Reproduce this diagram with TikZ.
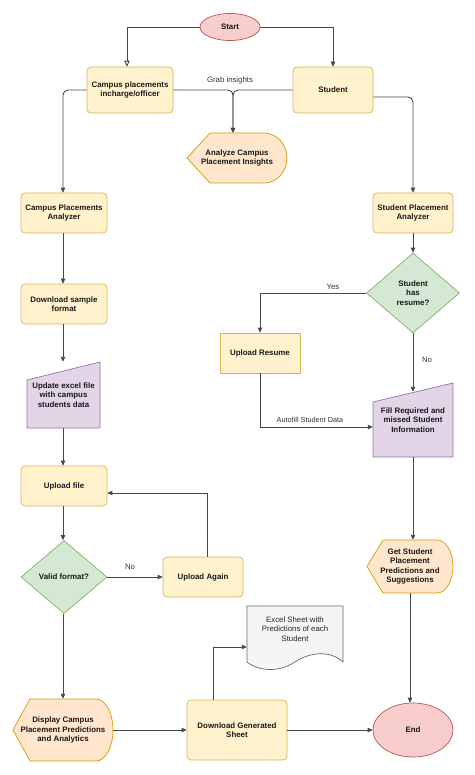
\documentclass[tikz,border=0pt]{standalone}
\usepackage{fontspec}
\setmainfont{Liberation Sans}
\usetikzlibrary{shapes.geometric,arrows.meta,calc}
\definecolor{yfill}{HTML}{FFF2CC}\definecolor{ydraw}{HTML}{D6B656}
\definecolor{pfill}{HTML}{F8CECC}\definecolor{pdraw}{HTML}{B85450}
\definecolor{gfill}{HTML}{D5E8D4}\definecolor{gdraw}{HTML}{82B366}
\definecolor{vfill}{HTML}{E1D5E7}\definecolor{vdraw}{HTML}{9673A6}
\definecolor{ofill}{HTML}{FFE6CC}\definecolor{odraw}{HTML}{D79B00}
\definecolor{dfill}{HTML}{F5F5F5}\definecolor{ddraw}{HTML}{666666}
\definecolor{lab}{HTML}{333333}
\newcommand\dispath[5]{% cx cy w h dx
  \filldraw[fill=ofill,draw=odraw,line width=0.7pt]
   ({#1-#3/2},#2) -- ({#1-#3/2+#5},{#2-#4/2}) -- ({#1+#3/2-#5},{#2-#4/2})
   .. controls ({#1+#3/2-#5+0.5523*#5},{#2-#4/2}) and ({#1+#3/2},{#2-0.5523*#4/2}) .. ({#1+#3/2},#2)
   .. controls ({#1+#3/2},{#2+0.5523*#4/2}) and ({#1+#3/2-#5+0.5523*#5},{#2+#4/2}) .. ({#1+#3/2-#5},{#2+#4/2})
   -- ({#1-#3/2+#5},{#2+#4/2}) -- cycle;}
\newcommand\manpath[5]{% x0 x1 ytl ytr ybot
  \filldraw[fill=vfill,draw=vdraw,line width=0.7pt]
   (#1,#3) -- (#2,#4) -- (#2,#5) -- (#1,#5) -- cycle;}
\tikzset{
  txt/.style={font=\fontsize{7.9}{9.3}\selectfont\bfseries,align=center,text=black!90,inner sep=0pt},
  procbox/.style={txt,rectangle,rounded corners=4pt,draw=ydraw,fill=yfill,line width=0.7pt},
  sqbox/.style={txt,rectangle,draw=ydraw,fill=yfill,line width=0.7pt},
  term/.style={txt,ellipse,draw=pdraw,fill=pfill,line width=0.7pt},
  decision/.style={txt,diamond,draw=gdraw,fill=gfill,line width=0.7pt},
  ghost/.style={txt},
  conn/.style={draw=black!72,line width=0.9pt,-{Triangle[length=5pt,width=4.5pt]}},
  openconn/.style={draw=black!72,line width=0.9pt,-{Triangle[open,length=6pt,width=5.5pt]}},
  elabel/.style={font=\fontsize{7.8}{9.3}\selectfont,text=lab,inner sep=0pt},
}
\begin{document}
\begin{tikzpicture}[x=1pt,y=-1pt]
\useasboundingbox (0,0) rectangle (474,775);
% shapes drawn directly
\dispath{237}{158}{100}{50}{23}
\dispath{410}{566.5}{86}{53}{16}
\dispath{63}{730}{100}{62}{17}
\manpath{27}{100}{380}{362}{428}
\manpath{373}{453}{402}{383}{457}
\filldraw[fill=dfill,draw=ddraw,line width=0.7pt]
  (247,606) -- (343,606) -- (343,662)
  .. controls (330,650) and (310,652) .. (295,662)
  .. controls (280,672) and (260,672) .. (247,662) -- cycle;
% nodes
\node[term,minimum width=60pt,minimum height=27pt] (start) at (230,27) {Start};
\node[procbox,minimum width=86pt,minimum height=46pt] (cpi) at (130,90) {Campus placements\\incharge/officer};
\node[procbox,minimum width=80pt,minimum height=46pt] (stu) at (333,90) {Student};
\node[ghost,minimum width=100pt,minimum height=50pt] (ana) at (237,158) {Analyze Campus\\Placement Insights};
\node[procbox,minimum width=86pt,minimum height=40pt] (cpa) at (64,213) {Campus Placements\\Analyzer};
\node[procbox,minimum width=80pt,minimum height=40pt] (spa) at (413,213) {Student Placement\\Analyzer};
\node[procbox,minimum width=86pt,minimum height=40pt] (dsf) at (64,304) {Download sample\\format};
\node[ghost,minimum width=73pt,minimum height=66pt] (upd) at (63.5,395) {Update excel file\\with campus\\students data};
\node[decision,minimum width=93pt,minimum height=80pt] (res) at (413,293) {Student\\has\\resume?};
\node[sqbox,minimum width=80pt,minimum height=40pt] (upr) at (260,353) {Upload Resume};
\node[ghost,minimum width=80pt,minimum height=74pt] (fill) at (413,420) {Fill Required and\\missed Student\\Information};
\node[procbox,minimum width=86pt,minimum height=40pt] (upf) at (64,486) {Upload file};
\node[decision,minimum width=86pt,minimum height=73pt] (val) at (64,577) {Valid format?};
\node[procbox,minimum width=80pt,minimum height=40pt] (upa) at (203,577) {Upload Again};
\node[ghost,minimum width=86pt,minimum height=53pt] (get) at (410,566.5) {Get Student\\Placement\\Predictions and\\Suggestions};
\node[ghost,minimum width=100pt,minimum height=62pt] (dis) at (63,730) {Display Campus\\Placement Predictions\\and Analytics};
\node[procbox,minimum width=100pt,minimum height=60pt] (dgs) at (237,730) {Download Generated\\Sheet};
\node[term,minimum width=80pt,minimum height=54pt] (end) at (413,730) {End};
\node[minimum width=96pt,minimum height=56pt,inner sep=0pt] (docbox) at (295,634) {};
\node[txt,font=\fontsize{7.8}{9.3}\selectfont,text=black!85] (doctext) at (295,629) {Excel Sheet with\\Predictions of each\\Student};
% connectors
\draw[openconn] (start.west) -| ($(cpi.north)+(-3,0)$);
\draw[conn] (start.east) -| (stu.north);
\draw[conn,rounded corners=5pt] (cpi.east) -| ($(ana.north)+(-4,0)$);
\draw[conn,rounded corners=5pt] (stu.west) -| ($(ana.north)+(-4,0)$);
\node[elabel] (grab) at (230,80) {Grab insights};
\draw[conn,rounded corners=5pt] (cpi.west) -| ($(cpa.north)+(-1,0)$);
\draw[conn,rounded corners=5pt] ($(stu.east)+(0,7)$) -| (spa.north);
\draw[conn] ($(cpa.south)+(-1,0)$) -- ($(dsf.north)+(-1,0)$);
\draw[conn] ($(dsf.south)+(-1,0)$) -- ($(upd.north)+(-0.5,0)$);
\draw[conn] ($(upd.south)+(-0.5,0)$) -- ($(upf.north)+(-1,0)$);
\draw[conn] ($(upf.south)+(-1,0)$) -- ($(val.north)+(-1,0)$);
\draw[conn] ($(val.south)+(-1,0)$) -- (dis.north);
\draw[conn] (spa.south) -- (res.north);
\draw[conn] (res.west) -| (upr.north);
\node[elabel] (yes) at (333,287) {Yes};
\draw[conn] (res.south) -- ($(fill.north)+(0,9)$);
\node[elabel] (no1) at (427,360) {No};
\draw[conn] (upr.south) |- ($(fill.west)+(0,7)$);
\node[elabel,font=\fontsize{7.3}{9}\selectfont] (auto) at (310,420) {Autofill Student Data};
\draw[conn] ($(fill.south)$) -- ($(fill.south |- get.north)$);
\draw[conn] (get.south) -- (get.south |- end.north);
\draw[conn] (val.east) -- (upa.west);
\node[elabel] (no2) at (130,567) {No};
\draw[conn] ($(upa.north)+(4,0)$) |- ($(upf.east)+(0,7)$);
\draw[conn] (dis.east) -- (dgs.west);
\draw[conn] (dgs.east) -- (end.west);
\draw[conn] ($(dgs.north)+(-24,0)$) |- ($(docbox.west)+(0,13)$);
\end{tikzpicture}
\end{document}
